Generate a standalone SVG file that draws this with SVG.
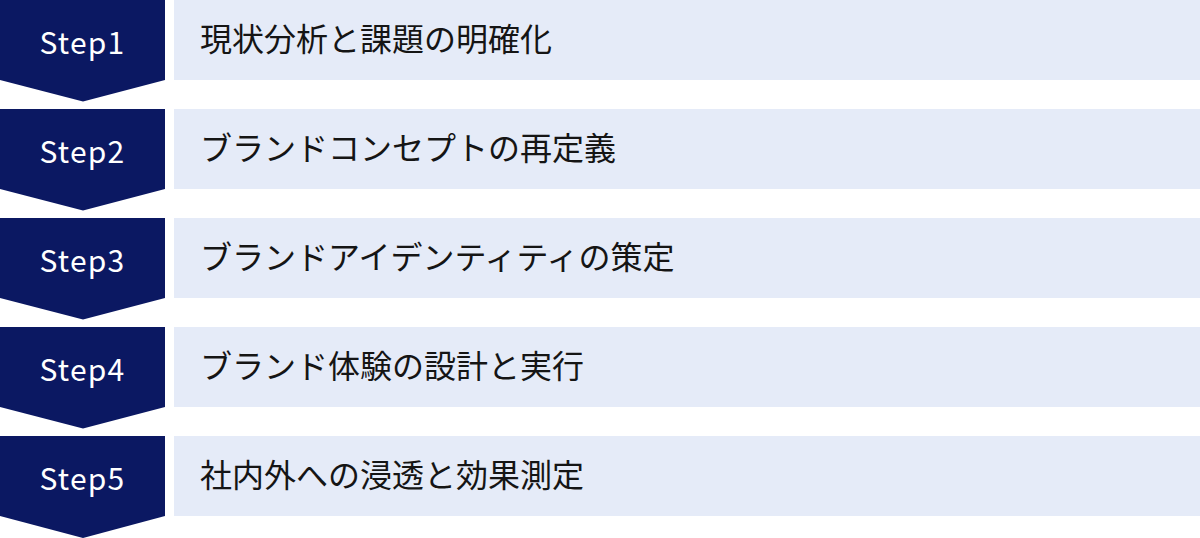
<svg xmlns="http://www.w3.org/2000/svg" width="1200" height="538" viewBox="0 0 1200 538">
<style>
.chev{fill:#0b1862}
.box{fill:#e5ebf8}
.st{font-family:"Noto Sans CJK JP","Noto Sans",sans-serif;font-size:30px;fill:#ffffff;text-anchor:middle;letter-spacing:1.2px}
.lb{font-family:"Noto Sans CJK JP","Noto Sans",sans-serif;font-size:32px;fill:#151515}
</style>
<rect width="1200" height="538" fill="#ffffff"/>
<g id="connectors"></g>
<g id="step1">
<polygon class="chev" points="0,0 165,0 165,80 83,101.5 0,80"/>
<rect class="box" x="174" y="0" width="1026" height="80"/>
<text class="st" x="82.5" y="53.5">Step1</text>
<text class="lb" x="200" y="50.5">現状分析と課題の明確化</text>
</g>
<g id="step2">
<polygon class="chev" points="0,109 165,109 165,189 83,210.5 0,189"/>
<rect class="box" x="174" y="109" width="1026" height="80"/>
<text class="st" x="82.5" y="162.5">Step2</text>
<text class="lb" x="200" y="159.5">ブランドコンセプトの再定義</text>
</g>
<g id="step3">
<polygon class="chev" points="0,218 165,218 165,298 83,319.5 0,298"/>
<rect class="box" x="174" y="218" width="1026" height="80"/>
<text class="st" x="82.5" y="271.5">Step3</text>
<text class="lb" x="200" y="268.5">ブランドアイデンティティの策定</text>
</g>
<g id="step4">
<polygon class="chev" points="0,327 165,327 165,407 83,428.5 0,407"/>
<rect class="box" x="174" y="327" width="1026" height="80"/>
<text class="st" x="82.5" y="380.5">Step4</text>
<text class="lb" x="200" y="377.5">ブランド体験の設計と実行</text>
</g>
<g id="step5">
<polygon class="chev" points="0,436 165,436 165,516 83,538 0,516"/>
<rect class="box" x="174" y="436" width="1026" height="80"/>
<text class="st" x="82.5" y="489.5">Step5</text>
<text class="lb" x="200" y="486.5">社内外への浸透と効果測定</text>
</g>
</svg>
